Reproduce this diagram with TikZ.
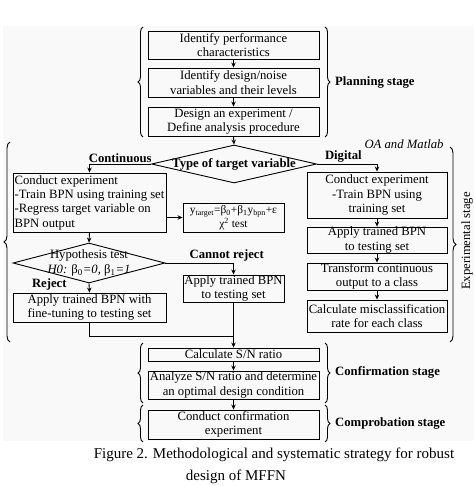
\documentclass[tikz,border=0pt]{standalone}
\usepackage{fontspec}
\setmainfont{Liberation Serif}
\usetikzlibrary{shapes.geometric,decorations.pathreplacing,arrows.meta}
\newcommand{\boxfont}{\fontsize{12.7}{14.3}\selectfont}
\newcommand{\capfont}{\fontsize{15}{22}\selectfont}

\begin{document}
\begin{tikzpicture}[x=1pt,y=-1pt,
  stepbox/.style={draw=black,line width=0.9pt,inner sep=0pt,align=center,font=\boxfont},
  decision/.style={diamond,draw=black,line width=0.9pt,inner sep=0pt},
  flow/.style={line width=0.9pt,-{Stealth[length=5pt,width=4.5pt]}},
  link/.style={line width=0.9pt},
  brace/.style={decorate,decoration={brace,amplitude=5pt},line width=0.9pt},
  tag/.style={font=\boxfont\bfseries,inner sep=0pt},
  stage/.style={font=\boxfont\bfseries,anchor=west,inner sep=0pt}]
\def\colL{89.5};\def\colM{233.5};\def\colR{377};
\fill[gray!5] (3,26) rectangle (474,441);
\useasboundingbox (0,0) rectangle (474,486);

\coordinate (c_char) at (\colM,45);
\coordinate (c_var) at (\colM,82.5);
\coordinate (c_plan) at (\colM,121.5);
\coordinate (c_type) at (234,164);

\coordinate (c_condL) at (\colL,202.5);
\coordinate (c_regr) at (\colM,217.5);
\coordinate (c_hyp) at (89,263);
\coordinate (c_fine) at (\colL,307.5);
\coordinate (c_applyM) at (\colM,288.5);

\coordinate (c_condR) at (\colR,195);
\coordinate (c_applyR) at (\colR,240);
\coordinate (c_trans) at (\colR,276.5);
\coordinate (c_miss) at (\colR,316);

\coordinate (c_sn) at (\colM,354.5);
\coordinate (c_anal) at (\colM,385);
\coordinate (c_conf) at (\colM,424.5);
\coordinate (join) at (\colM,336);

\node[stepbox,minimum width=171pt,minimum height=28pt] (char) at (c_char) {Identify performance\\characteristics};
\node[stepbox,minimum width=171pt,minimum height=29pt] (var) at (c_var) {Identify design/noise\\variables and their levels};
\node[stepbox,minimum width=171pt,minimum height=29pt] (plan) at (c_plan) {Design an experiment /\\Define analysis procedure};
\node[decision,minimum width=165pt,minimum height=38pt,label={[tag]center:Type of target variable}] (type) at (c_type) {};

\node[stepbox,align=left,minimum width=153pt,minimum height=59pt] (condL) at (c_condL) {Conduct experiment\\-Train BPN using training set\\-Regress target variable on\\BPN output};
\node[stepbox,minimum width=101pt,minimum height=29pt,font=\fontsize{11.4}{13.5}\selectfont] (regr) at (c_regr) {y\textsubscript{target}=β\textsubscript{0}+β\textsubscript{1}y\textsubscript{bpn}+ε\\χ\textsuperscript{2} test};
\node[decision,minimum width=152pt,minimum height=40pt,label={[align=center,font=\boxfont,inner sep=0pt]center:{Hypothesis test\\\textit{H0:} β\textsubscript{0}\textit{=0,} β\textsubscript{1}\textit{=1}}}] (hyp) at (c_hyp) {};
\node[stepbox,minimum width=153pt,minimum height=29pt] (fine) at (c_fine) {Apply trained BPN with\\fine-tuning to testing set};
\node[stepbox,minimum width=101pt,minimum height=27pt] (applyM) at (c_applyM) {Apply trained BPN\\to testing set};

\node[stepbox,minimum width=140pt,minimum height=46pt] (condR) at (c_condR) {Conduct experiment\\-Train BPN using\\training set};
\node[stepbox,minimum width=140pt,minimum height=26pt] (applyR) at (c_applyR) {Apply trained BPN\\to testing set};
\node[stepbox,minimum width=140pt,minimum height=27pt] (trans) at (c_trans) {Transform continuous\\output to a class};
\node[stepbox,minimum width=140pt,minimum height=32pt] (miss) at (c_miss) {Calculate misclassification\\rate for each class};

\node[stepbox,minimum width=171pt,minimum height=13pt] (sn) at (c_sn) {Calculate S/N ratio};
\node[stepbox,minimum width=171pt,minimum height=28pt] (anal) at (c_anal) {Analyze S/N ratio and determine\\an optimal design condition};
\node[stepbox,minimum width=171pt,minimum height=29pt] (conf) at (c_conf) {Conduct confirmation\\experiment};

\draw[flow] (char.south) -- (var.north);
\draw[flow] (var.south) -- (plan.north);
\draw[flow] (plan.south) -- (type.north);
\draw[flow] (type.west) -| node[tag,pos=0.25,above=1pt] (cont) {Continuous} (condL.north);
\draw[flow] (type.east) -| node[tag,pos=0.22,above=1pt] (digi) {Digital} (condR.north);
\draw[flow] (condL.east |- regr.west) -- (regr.west);
\draw[flow] (condL.south) -- (hyp.north);
\draw[flow] (hyp.south) -- node[tag,pos=0.1,left=22pt] (rej) {Reject} (fine.north);
\draw[flow] (hyp.east) -| node[tag,pos=0.45,above=1pt] (nrej) {Cannot reject} (applyM.north);
\draw[flow] (condR.south) -- (applyR.north);
\draw[flow] (applyR.south) -- (trans.north);
\draw[flow] (trans.south) -- (miss.north);
\draw[link] (fine.south) |- (join);
\draw[flow] (applyM.south) -- (sn.north);
\draw[flow] (sn.south) -- (anal.north);
\draw[flow] (anal.south) -- (conf.north);

\draw[brace] (143,137) -- (143,27);
\draw[brace] (325,27) -- (325,137);
\draw[brace,decoration={amplitude=6pt}] (10,342) -- (10,142);
\draw[brace,decoration={amplitude=6pt}] (450,147) -- (450,342);
\draw[brace] (143,403) -- (143,343);
\draw[brace] (325,343) -- (325,403);
\draw[brace] (143,442) -- (143,405);
\draw[brace] (325,405) -- (325,442);

\node[stage] (planlab) at (335,82) {Planning stage};
\node[font=\boxfont\itshape] (tool) at (404,144) {OA and Matlab};
\node[font=\boxfont,rotate=90] (explab) at (467,241) {Experimental stage};
\node[stage] (conflab) at (335,372) {Confirmation stage};
\node[stage] (complab) at (335,423) {Comprobation stage};

\node[font=\capfont] (cap1) at (274,455) {Figure 2. Methodological and systematic strategy for robust};
\node[font=\capfont] (cap2) at (236,477) {design of MFFN};
\end{tikzpicture}
\end{document}
